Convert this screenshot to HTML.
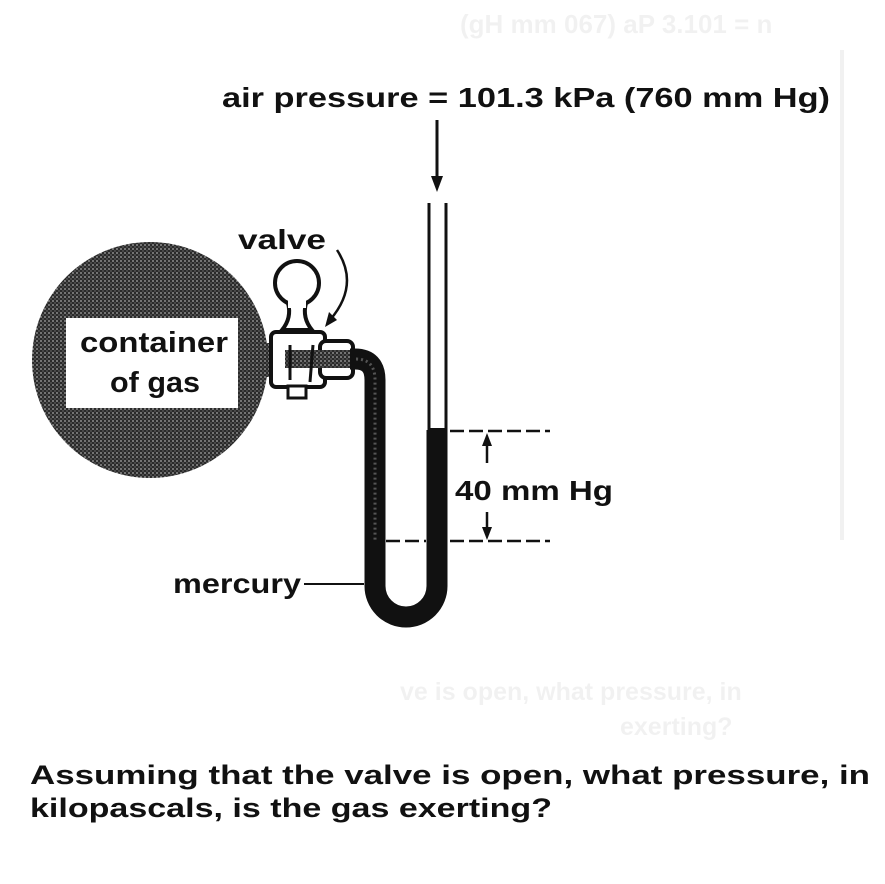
<!DOCTYPE html>
<html><head><meta charset="utf-8"><style>
html,body{margin:0;padding:0;background:#fff;}
svg{display:block;}
text{font-family:"Liberation Sans",sans-serif;font-weight:bold;fill:#111;}
</style></head><body>
<svg width="885" height="884" viewBox="0 0 885 884" xmlns="http://www.w3.org/2000/svg">
<defs>
<pattern id="dots" width="4" height="4" patternUnits="userSpaceOnUse">
<rect width="4" height="4" fill="#2a2a2a"/>
<circle cx="1" cy="1" r="0.9" fill="#aaa"/>
<circle cx="3" cy="3" r="0.7" fill="#777"/>
</pattern>
</defs>
<g opacity="0.05">
<text x="460" y="33" font-size="26">(gH mm 067) aP 3.101 = n</text>
<line x1="842" y1="50" x2="842" y2="540" stroke="#000" stroke-width="4"/>
<text x="400" y="700" font-size="25">ve is open, what pressure, in</text>
<text x="620" y="735" font-size="25">exerting?</text>
</g>
<text x="222" y="107" font-size="28" textLength="608" lengthAdjust="spacingAndGlyphs">air pressure = 101.3 kPa (760 mm Hg)</text>
<line x1="437" y1="120" x2="437" y2="180" stroke="#111" stroke-width="3"/>
<polygon points="431,176 443,176 437,192" fill="#111"/>
<circle cx="150" cy="360" r="118" fill="url(#dots)"/>
<rect x="66" y="318" width="172" height="90" fill="#fff"/>
<text x="80" y="352" font-size="29" textLength="148" lengthAdjust="spacingAndGlyphs">container</text>
<text x="110" y="392" font-size="29" textLength="90" lengthAdjust="spacingAndGlyphs">of gas</text>
<rect x="258" y="343" width="30" height="34" fill="url(#dots)"/>
<path d="M288,303 Q292,318 282,330 L312,330 Q302,318 306,303" fill="#fff" stroke="#111" stroke-width="4"/>
<circle cx="297" cy="283" r="22" fill="#fff" stroke="#111" stroke-width="4"/>
<rect x="288" y="300" width="18" height="8" fill="#fff"/>
<rect x="271" y="332" width="54" height="55" rx="5" fill="#fff" stroke="#111" stroke-width="4"/>
<rect x="320" y="341" width="33" height="37" rx="6" fill="#fff" stroke="#111" stroke-width="4"/>
<rect x="288" y="386" width="18" height="12" fill="#fff" stroke="#111" stroke-width="3"/>
<rect x="285" y="350" width="68" height="18" fill="url(#dots)"/>
<line x1="290" y1="345" x2="290" y2="380" stroke="#111" stroke-width="3"/>
<line x1="313" y1="345" x2="310" y2="382" stroke="#111" stroke-width="3"/>
<path d="M350,359 L355,359 Q375,359 375,380 L375,586 A31,31 0 0 0 437,586 L437,430" fill="none" stroke="#111" stroke-width="21"/>
<path d="M356,359 Q375,359 375,380 L375,540" fill="none" stroke="#555" stroke-width="3" stroke-dasharray="2 3"/>
<line x1="429" y1="203" x2="429" y2="432" stroke="#111" stroke-width="3"/>
<line x1="446" y1="203" x2="446" y2="432" stroke="#111" stroke-width="3"/>
<rect x="430" y="428" width="15" height="6" fill="#111"/>
<line x1="450" y1="431" x2="550" y2="431" stroke="#111" stroke-width="2.5" stroke-dasharray="14 5"/>
<line x1="386" y1="541" x2="426" y2="541" stroke="#111" stroke-width="2.5" stroke-dasharray="14 5"/>
<line x1="450" y1="541" x2="550" y2="541" stroke="#111" stroke-width="2.5" stroke-dasharray="14 5"/>
<line x1="487" y1="440" x2="487" y2="463" stroke="#111" stroke-width="2.5"/>
<polygon points="482,446 492,446 487,433" fill="#111"/>
<line x1="487" y1="512" x2="487" y2="534" stroke="#111" stroke-width="2.5"/>
<polygon points="482,527 492,527 487,540" fill="#111"/>
<text x="455" y="500" font-size="28" textLength="158" lengthAdjust="spacingAndGlyphs">40 mm Hg</text>
<text x="238" y="249" font-size="28" textLength="88" lengthAdjust="spacingAndGlyphs">valve</text>
<path d="M337,250 Q360,285 330,320" fill="none" stroke="#111" stroke-width="2.5"/>
<polygon points="325,327 329,312 337,320" fill="#111"/>
<text x="173" y="593" font-size="28" textLength="128" lengthAdjust="spacingAndGlyphs">mercury</text>
<line x1="304" y1="584" x2="364" y2="584" stroke="#111" stroke-width="2"/>
<text x="30" y="784" font-size="27" textLength="840" lengthAdjust="spacingAndGlyphs">Assuming that the valve is open, what pressure, in</text>
<text x="30" y="817" font-size="27" textLength="522" lengthAdjust="spacingAndGlyphs">kilopascals, is the gas exerting?</text>
</svg>
</body></html>
